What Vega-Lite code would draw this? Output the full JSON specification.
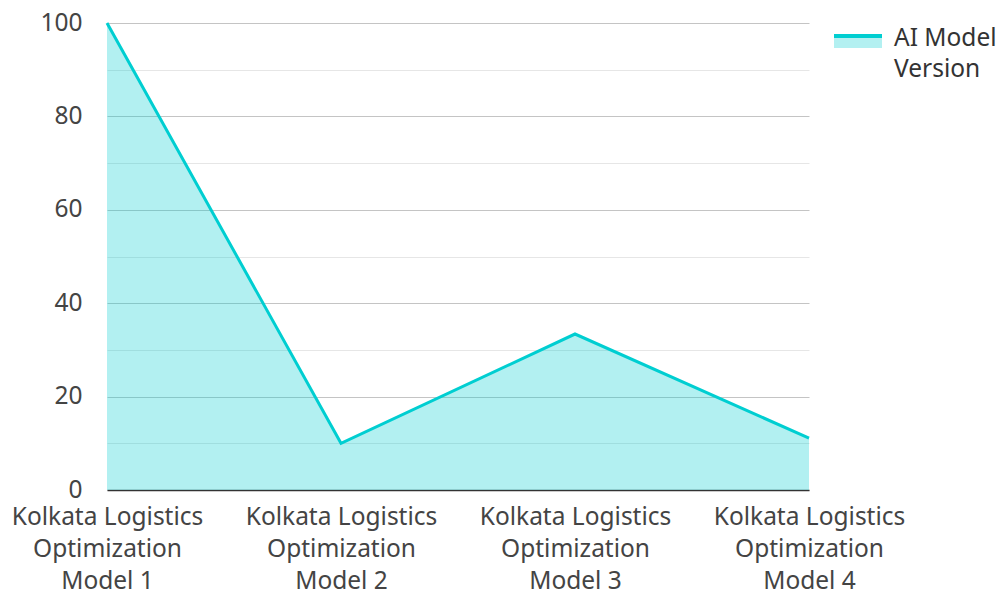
{
  "$schema": "https://vega.github.io/schema/vega-lite/v6.json",
  "width": 702,
  "height": 467,
  "autosize": {"type": "none"},
  "padding": {"left": 107, "top": 23, "right": 190, "bottom": 104},
  "background": "white",
  "config": {
    "view": {"stroke": null},
    "font": "Noto Sans",
    "axis": {"labelFont": "Noto Sans", "labelFontSize": 24.5, "labelColor": "#444444"}
  },
  "data": {
    "values": [
      {"model": "Kolkata Logistics Optimization Model 1", "series": "AI Model Version", "value": 100},
      {"model": "Kolkata Logistics Optimization Model 2", "series": "AI Model Version", "value": 10},
      {"model": "Kolkata Logistics Optimization Model 3", "series": "AI Model Version", "value": 33.4},
      {"model": "Kolkata Logistics Optimization Model 4", "series": "AI Model Version", "value": 11.1}
    ]
  },
  "encoding": {
    "x": {
      "field": "model", "type": "ordinal", "sort": null,
      "scale": {"type": "point", "padding": 0},
      "axis": {
        "title": null, "labelAngle": 0, "domain": true, "domainColor": "#333333", "domainWidth": 1.5,
        "ticks": false, "grid": false, "labelPadding": 15, "labelLineHeight": 32, "labelLimit": 0,
        "labelExpr": "split(replace(replace(datum.label,'Logistics ','Logistics|'),'Optimization ','Optimization|'),'|')"
      }
    },
    "y": {
      "field": "value", "type": "quantitative",
      "scale": {"domain": [0, 100], "nice": false},
      "axis": {
        "title": null, "values": [0,10,20,30,40,50,60,70,80,90,100], "domain": false, "ticks": false,
        "labelPadding": 25,
        "labelExpr": "datum.value % 20 == 0 ? datum.label : ''",
        "gridColor": {"condition": {"test": "datum.value % 20 == 0", "value": "#c4c4c4"}, "value": "#e6e6e6"},
        "gridWidth": 1
      }
    }
  },
  "layer": [
    {"mark": {"type": "area", "color": "#00CED1", "opacity": 0.3}},
    {
      "mark": {"type": "line", "strokeWidth": 3},
      "encoding": {
        "color": {
          "field": "series", "type": "nominal",
          "scale": {"range": ["#00CED1"]},
          "legend": {
            "title": null, "orient": "right", "offset": 17,
            "labelFontSize": 24.5, "labelColor": "#333333", "labelFont": "Noto Sans",
            "labelExpr": "['AI Model', 'Version']", "labelLimit": 200, "labelOffset": 10,
            "symbolType": "M-1,-0.54H1V-0.04H-1Z", "symbolSize": 2304,
            "symbolFillColor": "#b3f0f1", "symbolStrokeColor": "#00CED1", "symbolStrokeWidth": 4,
            "symbolDash": [48, 300], "symbolOpacity": 1,
            "encode": {
              "symbols": {"update": {
                "fill": {"value": "#b3f0f1"}, "stroke": {"value": "#00CED1"},
                "strokeWidth": {"value": 4}, "strokeDash": {"value": [48, 300]},
                "opacity": {"value": 1}
              }},
              "labels": {"update": {"lineHeight": {"value": 31}, "baseline": {"value": "top"}, "dy": {"value": -22}}}
            }
          }
        }
      }
    }
  ]
}
